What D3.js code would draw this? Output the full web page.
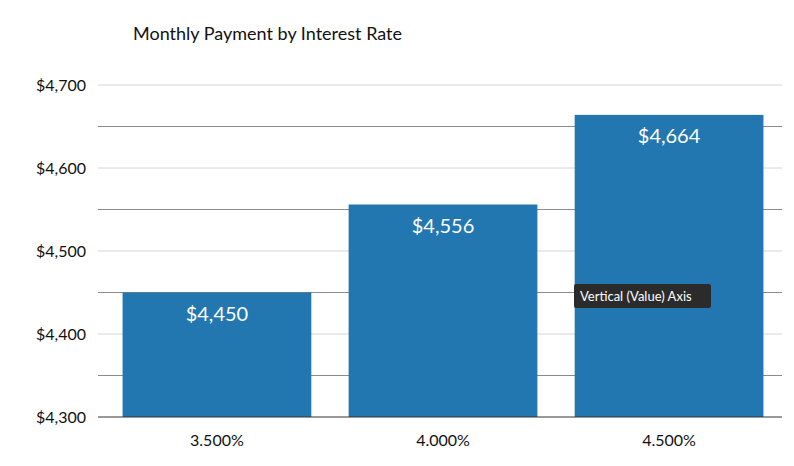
<!DOCTYPE html><html><head><meta charset="utf-8"><script src="https://cdn.jsdelivr.net/npm/d3@7"></script>
<style>body{margin:0;background:#fff}text{font-family:Lato,"Open Sans",sans-serif}</style></head><body><svg width="794" height="466"></svg><script>
const categories=["3.500%","4.000%","4.500%"];
const values=[4450,4556,4664];
const yTicks=[4300,4400,4500,4600,4700];
const minorTicks=[4350,4450,4550,4650];
const svg=d3.select("svg");
const L=98,R=782,T=85,B=417;
const x=d3.scaleBand().domain(categories).range([L+11,R-5]).paddingInner(0.165).paddingOuter(0.06);
const y=d3.scaleLinear().domain([4300,4700]).range([B,T]);
svg.append("text").attr("x",133).attr("y",40).attr("font-size",18).attr("fill","#111").text("Monthly Payment by Interest Rate");
svg.selectAll(".g1").data(yTicks.slice(1)).join("line").attr("x1",L).attr("x2",R).attr("y1",d=>y(d)).attr("y2",d=>y(d)).attr("stroke","#d4d4d4");
svg.selectAll(".g2").data(minorTicks).join("line").attr("x1",L).attr("x2",R).attr("y1",d=>y(d)).attr("y2",d=>y(d)).attr("stroke","#8a8a8a");
svg.selectAll(".yl").data(yTicks).join("text").attr("x",86).attr("y",d=>y(d)+6).attr("text-anchor","end").attr("font-size",16).attr("fill","#111").text(d=>d3.format("$,")(d));
svg.selectAll(".bar").data(values).join("rect").attr("x",(d,i)=>x(categories[i])).attr("width",x.bandwidth()).attr("y",d=>y(d)).attr("height",d=>B-y(d)).attr("fill","#2277b1");
svg.selectAll(".bl").data(values).join("text").attr("x",(d,i)=>x(categories[i])+x.bandwidth()/2).attr("y",d=>y(d)+28).attr("text-anchor","middle").attr("font-size",20).attr("fill","#fff").text(d=>d3.format("$,")(d));
svg.append("line").attr("x1",L).attr("x2",R).attr("y1",B).attr("y2",B).attr("stroke","#333");
svg.selectAll(".xl").data(categories).join("text").attr("x",d=>x(d)+x.bandwidth()/2).attr("y",446).attr("text-anchor","middle").attr("font-size",16).attr("fill","#111").text(d=>d);
const tg=svg.append("g");
tg.append("rect").attr("x",574).attr("y",284).attr("width",137).attr("height",24).attr("fill","#2b2b2b").attr("rx",2);
tg.append("text").attr("x",580).attr("y",301).attr("font-size",13).attr("fill","#fff").text("Vertical (Value) Axis");
</script></body></html>
